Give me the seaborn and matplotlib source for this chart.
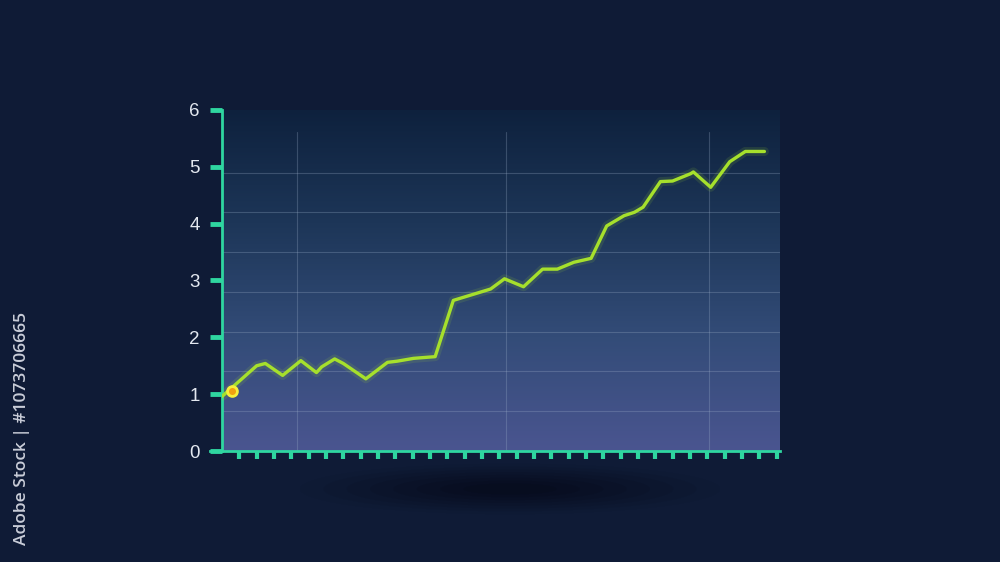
import matplotlib
matplotlib.use("Agg")
import matplotlib.pyplot as plt
import seaborn as sns
import numpy as np
import pandas as pd
from matplotlib.colors import LinearSegmentedColormap
from matplotlib.patches import Ellipse

# values
step = [0.0, 2.0, 2.5, 3.5, 4.55, 5.45, 5.75, 6.5, 7.0, 8.3, 9.55, 10.1,
        11.05, 12.3, 13.35, 15.5, 16.3, 17.4, 18.5, 19.35, 20.3, 21.3, 22.2,
        23.2, 23.8, 24.3, 25.3, 26.0, 27.05, 27.2, 28.2, 29.3, 30.2, 31.3]
value = [0.96, 1.50, 1.54, 1.33, 1.59, 1.38, 1.48, 1.62, 1.54, 1.27, 1.56, 1.58,
         1.63, 1.66, 2.65, 2.85, 3.03, 2.89, 3.20, 3.20, 3.32, 3.39, 3.96,
         4.14, 4.20, 4.29, 4.74, 4.75, 4.88, 4.91, 4.64, 5.09, 5.27, 5.27]
highlight_step = [0.6]
highlight_value = [1.06]
y_ticks = [0, 1, 2, 3, 4, 5, 6]
x_ticks = list(range(1, 33))
watermark = "Adobe Stock | #1073706665"

BG = "#0f1b36"
GREEN = "#2fd6a0"
LINE = "#a6e02c"

sns.set_style("dark", {"axes.facecolor": BG, "figure.facecolor": BG})
plt.rcParams["font.family"] = ["Liberation Sans", "DejaVu Sans"]

fig = plt.figure(figsize=(10, 5.62), dpi=100)
fig.patch.set_facecolor(BG)

# soft shadow under the chart
for i, a in enumerate(np.linspace(0.05, 0.22, 8)):
    k = 1 - i / 9
    fig.patches.append(Ellipse((0.51, 0.13), 0.42 * k, 0.09 * k,
                               transform=fig.transFigure, color="#050a18",
                               alpha=a, lw=0, zorder=0))

ax = fig.add_axes([0.222, 0.1975, 0.558, 0.6068])
ax.set_facecolor("none")

# gradient panel
cmap = LinearSegmentedColormap.from_list(
    "panel", ["#0e213d", "#1d3658", "#334c78", "#4a5590"])
grad = np.linspace(0, 1, 256).reshape(-1, 1)
ax.imshow(grad, extent=[0, 1, 0, 1], transform=ax.transAxes, aspect="auto",
          cmap=cmap, zorder=0)

# grid
for gy in np.arange(0.7, 5.0, 0.7):
    ax.axhline(gy, color="#9fb2cc", alpha=0.28, lw=0.8, zorder=1)
for gx in [4.3, 16.4, 28.1]:
    ax.axvline(gx, ymax=5.62 / 6, color="#9fb2cc", alpha=0.28, lw=0.8, zorder=1)

df = pd.DataFrame({"step": step, "value": value})
sns.lineplot(data=df, x="step", y="value", ax=ax, color=LINE, lw=6.5,
             alpha=0.12, zorder=3)
sns.lineplot(data=df, x="step", y="value", ax=ax, color=LINE, lw=2.4,
             zorder=4)
ax.scatter(highlight_step, highlight_value, s=50, color="#f0a010",
           edgecolor="#f6ee3a", linewidth=2, zorder=5)

ax.set_xlim(0, 32.2)
ax.set_ylim(0, 6)
ax.set_xticks(x_ticks)
ax.set_xticklabels([])
ax.set_yticks(y_ticks)
ax.set_yticklabels([str(t) for t in y_ticks], color="#e3e8f0", fontsize=13.5)
ax.tick_params(axis="x", bottom=True, length=6, width=3, color=GREEN,
               direction="out")
ax.tick_params(axis="y", left=True, length=9, width=3.5, color=GREEN,
               direction="out", pad=7)
ax.set_xlabel("")
ax.set_ylabel("")
ax.grid(False)

for s in ["top", "right"]:
    ax.spines[s].set_visible(False)
for s in ["left", "bottom"]:
    ax.spines[s].set_color(GREEN)
    ax.spines[s].set_linewidth(2)
ax.spines["bottom"].set_bounds(-0.7, 32.2)

fig.text(0.022, 0.03, watermark, rotation=90, ha="center", va="bottom",
         color="#c9cdd8", fontsize=12.5, weight="semibold",
         family=["Open Sans", "DejaVu Sans"])

fig.savefig("out.png", dpi=100, facecolor=BG)
